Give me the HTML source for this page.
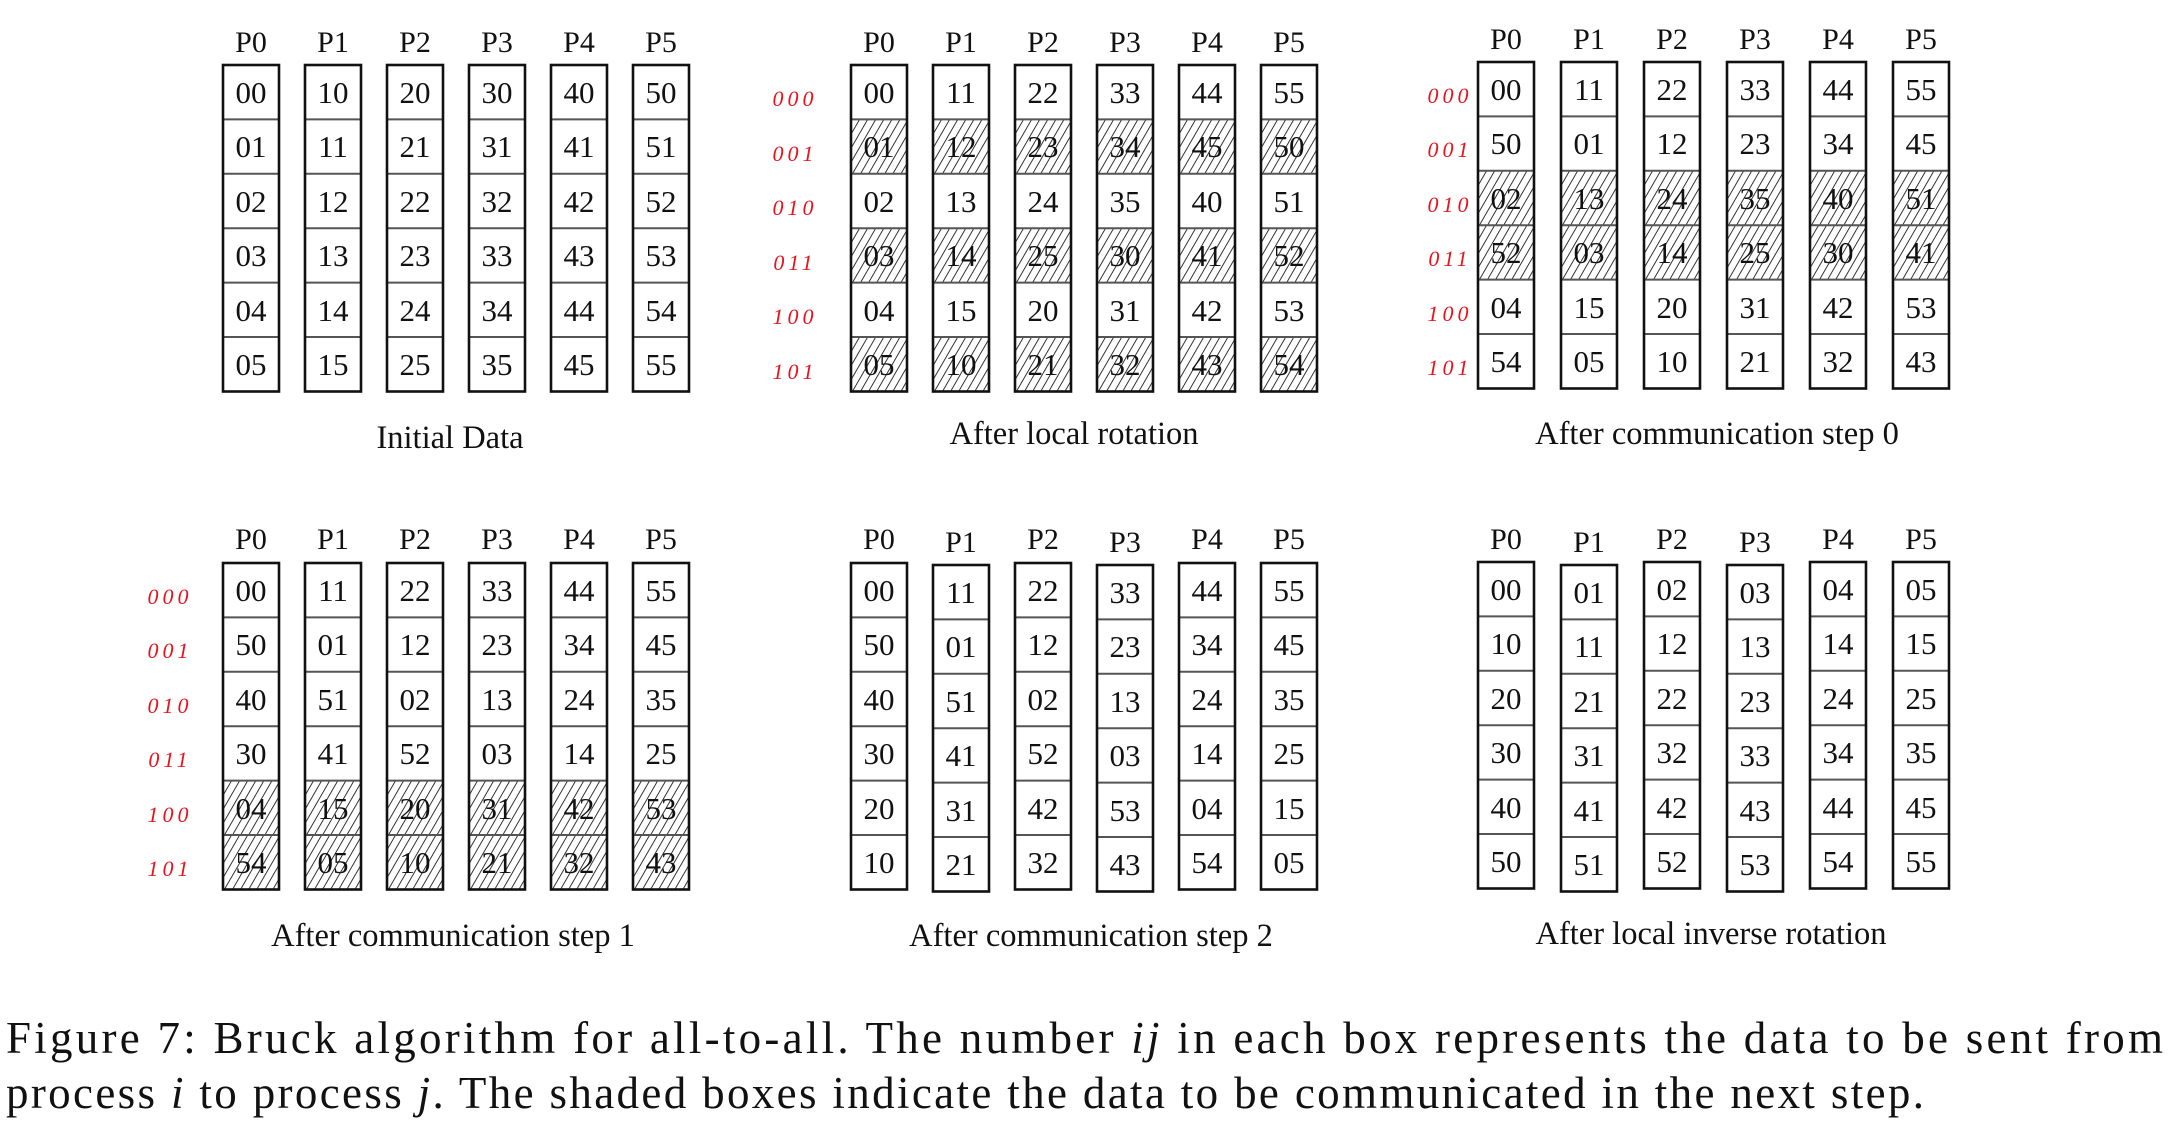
<!DOCTYPE html>
<html><head><meta charset="utf-8"><style>
html,body{margin:0;padding:0;background:#fff;}
svg{display:block;}
.c{font-family:"Liberation Serif",serif;font-size:31px;text-anchor:middle;fill:#111;}
.h{font-family:"Liberation Serif",serif;font-size:30px;text-anchor:middle;fill:#111;}
.cap{font-family:"Liberation Serif",serif;font-size:32.5px;text-anchor:middle;fill:#111;}
.r{font-family:"Liberation Serif",serif;font-style:italic;font-size:22px;fill:#e8141e;text-anchor:middle;letter-spacing:4px;}
.f{font-family:"Liberation Serif",serif;font-size:45px;fill:#111;}
</style></head><body>
<svg width="2169" height="1129" viewBox="0 0 2169 1129" xmlns="http://www.w3.org/2000/svg">
<defs>
<pattern id="hp" patternUnits="userSpaceOnUse" width="7" height="7" patternTransform="rotate(30)">
<rect width="7" height="7" fill="#fff"/><line x1="0" y1="0" x2="0" y2="7" stroke="#111" stroke-width="1.7"/>
</pattern>
<g id="gr">
<g stroke="#555" stroke-width="2"><line x1="0" y1="54.4" x2="56" y2="54.4"/><line x1="0" y1="108.8" x2="56" y2="108.8"/><line x1="0" y1="163.2" x2="56" y2="163.2"/><line x1="0" y1="217.6" x2="56" y2="217.6"/><line x1="0" y1="272" x2="56" y2="272"/></g>
<rect x="0" y="0" width="56" height="326.5" fill="none" stroke="#111" stroke-width="2.6"/>
</g>
<rect id="s" width="56" height="54.4" fill="url(#hp)"/>
</defs>
<rect width="2169" height="1129" fill="#fff"/>

<!-- Panel 1: Initial Data -->
<g class="h"><text x="251" y="52">P0</text><text x="333" y="52">P1</text><text x="415" y="52">P2</text><text x="497" y="52">P3</text><text x="579" y="52">P4</text><text x="661" y="52">P5</text></g>
<g transform="translate(223,65)"><use href="#gr"/><g class="c"><text x="28" y="38">00</text><text x="28" y="92">01</text><text x="28" y="147">02</text><text x="28" y="201">03</text><text x="28" y="256">04</text><text x="28" y="310">05</text></g></g>
<g transform="translate(305,65)"><use href="#gr"/><g class="c"><text x="28" y="38">10</text><text x="28" y="92">11</text><text x="28" y="147">12</text><text x="28" y="201">13</text><text x="28" y="256">14</text><text x="28" y="310">15</text></g></g>
<g transform="translate(387,65)"><use href="#gr"/><g class="c"><text x="28" y="38">20</text><text x="28" y="92">21</text><text x="28" y="147">22</text><text x="28" y="201">23</text><text x="28" y="256">24</text><text x="28" y="310">25</text></g></g>
<g transform="translate(469,65)"><use href="#gr"/><g class="c"><text x="28" y="38">30</text><text x="28" y="92">31</text><text x="28" y="147">32</text><text x="28" y="201">33</text><text x="28" y="256">34</text><text x="28" y="310">35</text></g></g>
<g transform="translate(551,65)"><use href="#gr"/><g class="c"><text x="28" y="38">40</text><text x="28" y="92">41</text><text x="28" y="147">42</text><text x="28" y="201">43</text><text x="28" y="256">44</text><text x="28" y="310">45</text></g></g>
<g transform="translate(633,65)"><use href="#gr"/><g class="c"><text x="28" y="38">50</text><text x="28" y="92">51</text><text x="28" y="147">52</text><text x="28" y="201">53</text><text x="28" y="256">54</text><text x="28" y="310">55</text></g></g>
<text class="cap" x="450" y="448">Initial Data</text>

<!-- Panel 2: After local rotation -->
<g class="r"><text x="795" y="106">000</text><text x="795" y="161">001</text><text x="795" y="215">010</text><text x="795" y="270">011</text><text x="795" y="324">100</text><text x="795" y="379">101</text></g>
<g class="h"><text x="879" y="52">P0</text><text x="961" y="52">P1</text><text x="1043" y="52">P2</text><text x="1125" y="52">P3</text><text x="1207" y="52">P4</text><text x="1289" y="52">P5</text></g>
<g transform="translate(851,65)"><use href="#s" y="54.4"/><use href="#s" y="163.2"/><use href="#s" y="272"/><use href="#gr"/><g class="c"><text x="28" y="38">00</text><text x="28" y="92">01</text><text x="28" y="147">02</text><text x="28" y="201">03</text><text x="28" y="256">04</text><text x="28" y="310">05</text></g></g>
<g transform="translate(933,65)"><use href="#s" y="54.4"/><use href="#s" y="163.2"/><use href="#s" y="272"/><use href="#gr"/><g class="c"><text x="28" y="38">11</text><text x="28" y="92">12</text><text x="28" y="147">13</text><text x="28" y="201">14</text><text x="28" y="256">15</text><text x="28" y="310">10</text></g></g>
<g transform="translate(1015,65)"><use href="#s" y="54.4"/><use href="#s" y="163.2"/><use href="#s" y="272"/><use href="#gr"/><g class="c"><text x="28" y="38">22</text><text x="28" y="92">23</text><text x="28" y="147">24</text><text x="28" y="201">25</text><text x="28" y="256">20</text><text x="28" y="310">21</text></g></g>
<g transform="translate(1097,65)"><use href="#s" y="54.4"/><use href="#s" y="163.2"/><use href="#s" y="272"/><use href="#gr"/><g class="c"><text x="28" y="38">33</text><text x="28" y="92">34</text><text x="28" y="147">35</text><text x="28" y="201">30</text><text x="28" y="256">31</text><text x="28" y="310">32</text></g></g>
<g transform="translate(1179,65)"><use href="#s" y="54.4"/><use href="#s" y="163.2"/><use href="#s" y="272"/><use href="#gr"/><g class="c"><text x="28" y="38">44</text><text x="28" y="92">45</text><text x="28" y="147">40</text><text x="28" y="201">41</text><text x="28" y="256">42</text><text x="28" y="310">43</text></g></g>
<g transform="translate(1261,65)"><use href="#s" y="54.4"/><use href="#s" y="163.2"/><use href="#s" y="272"/><use href="#gr"/><g class="c"><text x="28" y="38">55</text><text x="28" y="92">50</text><text x="28" y="147">51</text><text x="28" y="201">52</text><text x="28" y="256">53</text><text x="28" y="310">54</text></g></g>
<text class="cap" x="1074" y="444">After local rotation</text>

<!-- Panel 3: After communication step 0 -->
<g class="r"><text x="1450" y="103">000</text><text x="1450" y="157">001</text><text x="1450" y="212">010</text><text x="1450" y="266">011</text><text x="1450" y="321">100</text><text x="1450" y="375">101</text></g>
<g class="h"><text x="1506" y="49">P0</text><text x="1589" y="49">P1</text><text x="1672" y="49">P2</text><text x="1755" y="49">P3</text><text x="1838" y="49">P4</text><text x="1921" y="49">P5</text></g>
<g transform="translate(1478,62)"><use href="#s" y="108.8"/><use href="#s" y="163.2"/><use href="#gr"/><g class="c"><text x="28" y="38">00</text><text x="28" y="92">50</text><text x="28" y="147">02</text><text x="28" y="201">52</text><text x="28" y="256">04</text><text x="28" y="310">54</text></g></g>
<g transform="translate(1561,62)"><use href="#s" y="108.8"/><use href="#s" y="163.2"/><use href="#gr"/><g class="c"><text x="28" y="38">11</text><text x="28" y="92">01</text><text x="28" y="147">13</text><text x="28" y="201">03</text><text x="28" y="256">15</text><text x="28" y="310">05</text></g></g>
<g transform="translate(1644,62)"><use href="#s" y="108.8"/><use href="#s" y="163.2"/><use href="#gr"/><g class="c"><text x="28" y="38">22</text><text x="28" y="92">12</text><text x="28" y="147">24</text><text x="28" y="201">14</text><text x="28" y="256">20</text><text x="28" y="310">10</text></g></g>
<g transform="translate(1727,62)"><use href="#s" y="108.8"/><use href="#s" y="163.2"/><use href="#gr"/><g class="c"><text x="28" y="38">33</text><text x="28" y="92">23</text><text x="28" y="147">35</text><text x="28" y="201">25</text><text x="28" y="256">31</text><text x="28" y="310">21</text></g></g>
<g transform="translate(1810,62)"><use href="#s" y="108.8"/><use href="#s" y="163.2"/><use href="#gr"/><g class="c"><text x="28" y="38">44</text><text x="28" y="92">34</text><text x="28" y="147">40</text><text x="28" y="201">30</text><text x="28" y="256">42</text><text x="28" y="310">32</text></g></g>
<g transform="translate(1893,62)"><use href="#s" y="108.8"/><use href="#s" y="163.2"/><use href="#gr"/><g class="c"><text x="28" y="38">55</text><text x="28" y="92">45</text><text x="28" y="147">51</text><text x="28" y="201">41</text><text x="28" y="256">53</text><text x="28" y="310">43</text></g></g>
<text class="cap" x="1717" y="444">After communication step 0</text>

<!-- Panel 4: After communication step 1 -->
<g class="r"><text x="170" y="604">000</text><text x="170" y="658">001</text><text x="170" y="713">010</text><text x="170" y="767">011</text><text x="170" y="822">100</text><text x="170" y="876">101</text></g>
<g class="h"><text x="251" y="549">P0</text><text x="333" y="549">P1</text><text x="415" y="549">P2</text><text x="497" y="549">P3</text><text x="579" y="549">P4</text><text x="661" y="549">P5</text></g>
<g transform="translate(223,563)"><use href="#s" y="217.6"/><use href="#s" y="272"/><use href="#gr"/><g class="c"><text x="28" y="38">00</text><text x="28" y="92">50</text><text x="28" y="147">40</text><text x="28" y="201">30</text><text x="28" y="256">04</text><text x="28" y="310">54</text></g></g>
<g transform="translate(305,563)"><use href="#s" y="217.6"/><use href="#s" y="272"/><use href="#gr"/><g class="c"><text x="28" y="38">11</text><text x="28" y="92">01</text><text x="28" y="147">51</text><text x="28" y="201">41</text><text x="28" y="256">15</text><text x="28" y="310">05</text></g></g>
<g transform="translate(387,563)"><use href="#s" y="217.6"/><use href="#s" y="272"/><use href="#gr"/><g class="c"><text x="28" y="38">22</text><text x="28" y="92">12</text><text x="28" y="147">02</text><text x="28" y="201">52</text><text x="28" y="256">20</text><text x="28" y="310">10</text></g></g>
<g transform="translate(469,563)"><use href="#s" y="217.6"/><use href="#s" y="272"/><use href="#gr"/><g class="c"><text x="28" y="38">33</text><text x="28" y="92">23</text><text x="28" y="147">13</text><text x="28" y="201">03</text><text x="28" y="256">31</text><text x="28" y="310">21</text></g></g>
<g transform="translate(551,563)"><use href="#s" y="217.6"/><use href="#s" y="272"/><use href="#gr"/><g class="c"><text x="28" y="38">44</text><text x="28" y="92">34</text><text x="28" y="147">24</text><text x="28" y="201">14</text><text x="28" y="256">42</text><text x="28" y="310">32</text></g></g>
<g transform="translate(633,563)"><use href="#s" y="217.6"/><use href="#s" y="272"/><use href="#gr"/><g class="c"><text x="28" y="38">55</text><text x="28" y="92">45</text><text x="28" y="147">35</text><text x="28" y="201">25</text><text x="28" y="256">53</text><text x="28" y="310">43</text></g></g>
<text class="cap" x="453" y="946">After communication step 1</text>

<!-- Panel 5: After communication step 2 -->
<g class="h"><text x="879" y="549">P0</text><text x="961" y="552">P1</text><text x="1043" y="549">P2</text><text x="1125" y="552">P3</text><text x="1207" y="549">P4</text><text x="1289" y="549">P5</text></g>
<g transform="translate(851,563)"><use href="#gr"/><g class="c"><text x="28" y="38">00</text><text x="28" y="92">50</text><text x="28" y="147">40</text><text x="28" y="201">30</text><text x="28" y="256">20</text><text x="28" y="310">10</text></g></g>
<g transform="translate(933,565)"><use href="#gr"/><g class="c"><text x="28" y="38">11</text><text x="28" y="92">01</text><text x="28" y="147">51</text><text x="28" y="201">41</text><text x="28" y="256">31</text><text x="28" y="310">21</text></g></g>
<g transform="translate(1015,563)"><use href="#gr"/><g class="c"><text x="28" y="38">22</text><text x="28" y="92">12</text><text x="28" y="147">02</text><text x="28" y="201">52</text><text x="28" y="256">42</text><text x="28" y="310">32</text></g></g>
<g transform="translate(1097,565)"><use href="#gr"/><g class="c"><text x="28" y="38">33</text><text x="28" y="92">23</text><text x="28" y="147">13</text><text x="28" y="201">03</text><text x="28" y="256">53</text><text x="28" y="310">43</text></g></g>
<g transform="translate(1179,563)"><use href="#gr"/><g class="c"><text x="28" y="38">44</text><text x="28" y="92">34</text><text x="28" y="147">24</text><text x="28" y="201">14</text><text x="28" y="256">04</text><text x="28" y="310">54</text></g></g>
<g transform="translate(1261,563)"><use href="#gr"/><g class="c"><text x="28" y="38">55</text><text x="28" y="92">45</text><text x="28" y="147">35</text><text x="28" y="201">25</text><text x="28" y="256">15</text><text x="28" y="310">05</text></g></g>
<text class="cap" x="1091" y="946">After communication step 2</text>

<!-- Panel 6: After local inverse rotation -->
<g class="h"><text x="1506" y="549">P0</text><text x="1589" y="552">P1</text><text x="1672" y="549">P2</text><text x="1755" y="552">P3</text><text x="1838" y="549">P4</text><text x="1921" y="549">P5</text></g>
<g transform="translate(1478,562)"><use href="#gr"/><g class="c"><text x="28" y="38">00</text><text x="28" y="92">10</text><text x="28" y="147">20</text><text x="28" y="201">30</text><text x="28" y="256">40</text><text x="28" y="310">50</text></g></g>
<g transform="translate(1561,565)"><use href="#gr"/><g class="c"><text x="28" y="38">01</text><text x="28" y="92">11</text><text x="28" y="147">21</text><text x="28" y="201">31</text><text x="28" y="256">41</text><text x="28" y="310">51</text></g></g>
<g transform="translate(1644,562)"><use href="#gr"/><g class="c"><text x="28" y="38">02</text><text x="28" y="92">12</text><text x="28" y="147">22</text><text x="28" y="201">32</text><text x="28" y="256">42</text><text x="28" y="310">52</text></g></g>
<g transform="translate(1727,565)"><use href="#gr"/><g class="c"><text x="28" y="38">03</text><text x="28" y="92">13</text><text x="28" y="147">23</text><text x="28" y="201">33</text><text x="28" y="256">43</text><text x="28" y="310">53</text></g></g>
<g transform="translate(1810,562)"><use href="#gr"/><g class="c"><text x="28" y="38">04</text><text x="28" y="92">14</text><text x="28" y="147">24</text><text x="28" y="201">34</text><text x="28" y="256">44</text><text x="28" y="310">54</text></g></g>
<g transform="translate(1893,562)"><use href="#gr"/><g class="c"><text x="28" y="38">05</text><text x="28" y="92">15</text><text x="28" y="147">25</text><text x="28" y="201">35</text><text x="28" y="256">45</text><text x="28" y="310">55</text></g></g>
<text class="cap" x="1711" y="944">After local inverse rotation</text>

<!-- Figure caption -->
<text class="f" x="6" y="1053" textLength="2157" lengthAdjust="spacing">Figure 7:  Bruck algorithm for all-to-all.  The number <tspan font-style="italic">ij</tspan> in each box represents the data to be sent from</text>
<text class="f" x="6" y="1108" textLength="1918" lengthAdjust="spacing">process <tspan font-style="italic">i</tspan> to process <tspan font-style="italic">j</tspan>. The shaded boxes indicate the data to be communicated in the next step.</text>
</svg>
</body></html>
